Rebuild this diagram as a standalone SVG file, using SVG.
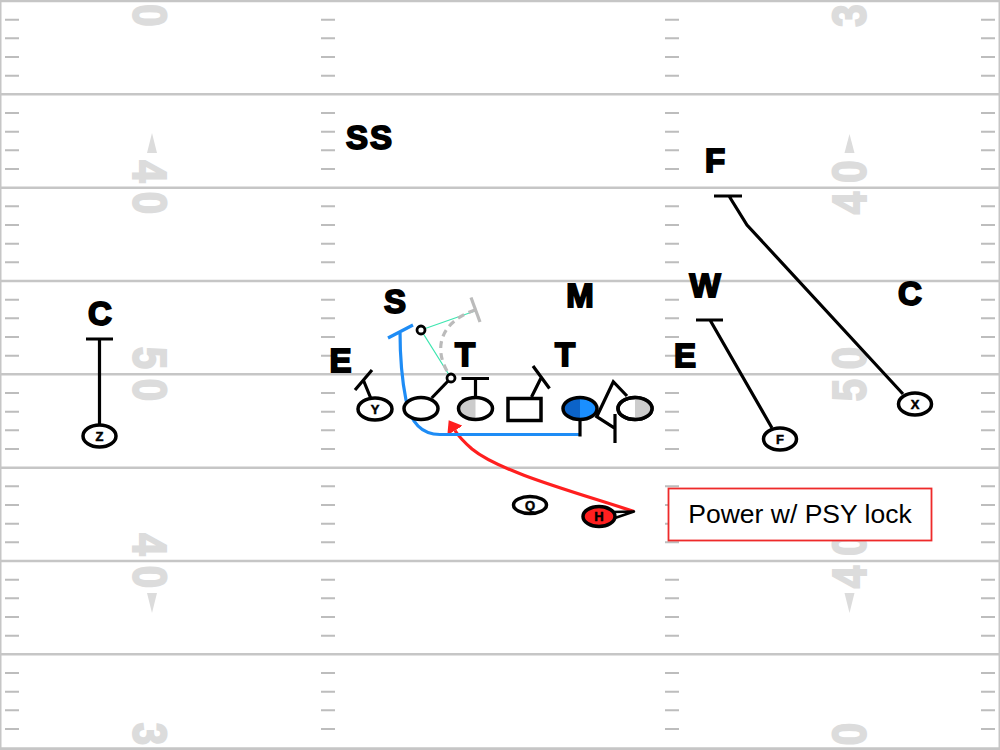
<svg xmlns="http://www.w3.org/2000/svg" xmlns:xlink="http://www.w3.org/1999/xlink" width="1000" height="750" viewBox="0 0 1000 750">
<style>
.yl{stroke:#c6c6c6;stroke-width:2.5;fill:none}
.hs{stroke:#bdbdbd;stroke-width:2;fill:none}
.yn{font-family:"Liberation Sans",Arial,sans-serif;font-weight:bold;font-size:49px;fill:#dcdcdc;stroke:#dcdcdc;stroke-width:2;text-anchor:middle}
.ya{fill:#dcdcdc}
.lbl{font-family:"Liberation Sans",Arial,sans-serif;font-weight:bold;font-size:33px;fill:#000;stroke:#000;stroke-width:1.9;text-anchor:middle}
.pl{fill:#fff;stroke:#000;stroke-width:3.5}
.pt{font-family:"Liberation Sans",Arial,sans-serif;font-weight:bold;font-size:13px;fill:#000;stroke:#000;stroke-width:0.5;text-anchor:middle}
.rt{fill:none;stroke:#000;stroke-width:3.2}
.blue{fill:none;stroke:#1e8cf5;stroke-width:3.2}
.red{fill:none;stroke:#ff1f1f;stroke-width:3.2}
.mint{fill:none;stroke:#3ee6b0;stroke-width:1.2}
.gd{fill:none;stroke:#bbbbbb;stroke-width:3.2}
</style>
<defs>
<path id="hash5" class="hs" d="M5 18.67h14M321 18.67h14M665 18.67h14M981 18.67h14M5 37.33h14M321 37.33h14M665 37.33h14M981 37.33h14M5 56h14M321 56h14M665 56h14M981 56h14M5 74.67h14M321 74.67h14M665 74.67h14M981 74.67h14"/>
<marker id="arr" markerUnits="userSpaceOnUse" viewBox="0 0 12 18" refX="0" refY="9" markerWidth="12" markerHeight="18" orient="auto">
<path d="M0,0 L12,9 L0,18 z" fill="#ff1f1f"/>
</marker>
</defs>
<rect x="0" y="0" width="1000" height="750" fill="#fff"/>
<g id="field">
<use xlink:href="#hash5" y="1"/>
<use xlink:href="#hash5" y="94.33"/>
<use xlink:href="#hash5" y="187.67"/>
<use xlink:href="#hash5" y="281"/>
<use xlink:href="#hash5" y="374.33"/>
<use xlink:href="#hash5" y="467.67"/>
<use xlink:href="#hash5" y="561"/>
<use xlink:href="#hash5" y="654.33"/>
<path class="yl" d="M0 1H1000M0 94.33H1000M0 187.67H1000M0 281H1000M0 374.33H1000M0 467.67H1000M0 561H1000M0 654.33H1000M0 748.5H1000"/>
<rect x="0.75" y="0.75" width="998.5" height="748.5" fill="none" stroke="#c6c6c6" stroke-width="1.5"/>
<text class="yn" transform="translate(151,15.5) rotate(90) scale(0.82,1)" dy="0.36em">0</text>
<text class="yn" transform="translate(151,171.5) rotate(90) scale(0.82,1)" dy="0.36em">4</text>
<text class="yn" transform="translate(151,203) rotate(90) scale(0.82,1)" dy="0.36em">0</text>
<text class="yn" transform="translate(151,358) rotate(90) scale(0.82,1)" dy="0.36em">5</text>
<text class="yn" transform="translate(151,390) rotate(90) scale(0.82,1)" dy="0.36em">0</text>
<text class="yn" transform="translate(151,544.5) rotate(90) scale(0.82,1)" dy="0.36em">4</text>
<text class="yn" transform="translate(151,577) rotate(90) scale(0.82,1)" dy="0.36em">0</text>
<text class="yn" transform="translate(151,734) rotate(90) scale(0.82,1)" dy="0.36em">3</text>
<polygon class="ya" points="152,133 147,153 157,153"/>
<polygon class="ya" points="152,613 147,593 157,593"/>
<text class="yn" transform="translate(848,15.5) rotate(-90) scale(0.82,1)" dy="0.36em">3</text>
<text class="yn" transform="translate(848,171.5) rotate(-90) scale(0.82,1)" dy="0.36em">0</text>
<text class="yn" transform="translate(848,203) rotate(-90) scale(0.82,1)" dy="0.36em">4</text>
<text class="yn" transform="translate(848,358) rotate(-90) scale(0.82,1)" dy="0.36em">0</text>
<text class="yn" transform="translate(848,390) rotate(-90) scale(0.82,1)" dy="0.36em">5</text>
<text class="yn" transform="translate(848,544.5) rotate(-90) scale(0.82,1)" dy="0.36em">0</text>
<text class="yn" transform="translate(848,577) rotate(-90) scale(0.82,1)" dy="0.36em">4</text>
<text class="yn" transform="translate(848,734) rotate(-90) scale(0.82,1)" dy="0.36em">0</text>
<polygon class="ya" points="849.5,134 844.5,153 854.5,153"/>
<polygon class="ya" points="849.5,613 844.5,593 854.5,593"/>
</g>

<g id="connectors">
<path class="red" d="M634,511.5 C575,492 500,472 472,449 C464,442 459,437 455,430.5" marker-end="url(#arr)"/>
<path class="rt" d="M99.5,426 V339 M86,339 H113"/>
<path class="rt" d="M772,428 L710,320 M696,320 H723"/>
<path class="rt" d="M903,394 L747,225 L729,196 M714,196 H742"/>
<path class="rt" d="M370.7,398 L363.3,380 M355,390 L372,370"/>
<path class="rt" d="M431.7,398 L451,378"/>
<path class="mint" d="M451,378 L421,330 L475,311"/>
<path class="gd" d="M447,371 C434,348 440,322 475,310" stroke-dasharray="7,5"/>
<path class="gd" d="M471,297.5 L480,322"/>
<path class="rt" d="M475.5,397 V379 M461.5,378.5 H489"/>
<path class="rt" d="M531.5,397 L541,378 M533,366 L549.5,388.5"/>
<path class="blue" d="M580,434.5 H440 C420,434.5 410,420 406,400 C402,380 400,355 400,331 M388,338 L413,325"/>
<path class="rt" d="M580,419 V436.5"/>
<path class="rt" stroke-linejoin="miter" d="M627,396 L613.3,381.7 L596.7,416.7 L615,428.3 M615,414 V443"/>
<circle cx="451" cy="378" r="4" fill="#fff" stroke="#000" stroke-width="2.8"/>
<circle cx="421" cy="330" r="4" fill="#fff" stroke="#000" stroke-width="2.8"/>
</g>

<g id="label-SS"><text class="lbl" x="370" y="149" letter-spacing="2">SS</text></g>
<g id="label-F"><text class="lbl" x="715" y="172">F</text></g>
<g id="label-W"><text class="lbl" x="705" y="297">W</text></g>
<g id="label-C-right"><text class="lbl" x="910" y="305">C</text></g>
<g id="label-M"><text class="lbl" x="580" y="307">M</text></g>
<g id="label-S"><text class="lbl" x="395" y="313">S</text></g>
<g id="label-C-left"><text class="lbl" x="100" y="325">C</text></g>
<g id="label-E-left"><text class="lbl" x="340.5" y="372">E</text></g>
<g id="label-T1"><text class="lbl" x="465" y="366">T</text></g>
<g id="label-T2"><text class="lbl" x="565" y="366">T</text></g>
<g id="label-E-right"><text class="lbl" x="685" y="367">E</text></g>

<g id="player-Z"><ellipse class="pl" cx="99.5" cy="436" rx="16.5" ry="11"/><text class="pt" x="99.5" y="440.5">Z</text></g>
<g id="player-Y"><ellipse class="pl" cx="375" cy="409" rx="17" ry="11"/><text class="pt" x="375" y="413.5">Y</text></g>
<g id="player-LT"><ellipse class="pl" cx="421" cy="408.5" rx="17" ry="11"/></g>
<g id="player-LG"><path d="M475.5,397.5 A17,11 0 0 0 475.5,419.5 Z" fill="#cccccc"/><ellipse cx="475.5" cy="408.5" rx="17" ry="11" fill="none" stroke="#000" stroke-width="3.5"/></g>
<g id="player-C"><rect class="pl" x="508" y="398.5" width="33" height="22"/></g>
<g id="player-RG"><path d="M580,397.5 A17,11 0 0 0 580,419.5 Z" fill="#0b63c9"/><path d="M580,397.5 A17,11 0 0 1 580,419.5 Z" fill="#1a8fff"/><ellipse cx="580" cy="408.5" rx="17" ry="11" fill="none" stroke="#000" stroke-width="3.5"/></g>
<g id="player-RT"><ellipse class="pl" cx="635" cy="408.5" rx="17" ry="11"/><path d="M635,397.5 A17,11 0 0 1 635,419.5 Z" fill="#cccccc"/><ellipse cx="635" cy="408.5" rx="17" ry="11" fill="none" stroke="#000" stroke-width="3.5"/></g>
<g id="player-X"><ellipse class="pl" cx="915" cy="404" rx="16.5" ry="11"/><text class="pt" x="915" y="408.5">X</text></g>
<g id="player-F"><ellipse class="pl" cx="780" cy="439" rx="16.5" ry="11"/><text class="pt" x="780" y="443.5">F</text></g>
<g id="player-Q"><ellipse class="pl" cx="530" cy="505" rx="16.5" ry="8.5"/><text class="pt" x="530" y="509.5">Q</text></g>
<g id="player-H"><path d="M612,512 L634,511.5 L612,519 Z" fill="#fff" stroke="#000" stroke-width="2.5" stroke-linejoin="round"/><ellipse cx="599" cy="516.5" rx="16" ry="10" fill="#ff1f1f" stroke="#000" stroke-width="3.5"/><text class="pt" x="599" y="521">H</text></g>

<g id="play-label"><rect x="668.5" y="488.5" width="263" height="52" fill="#fff" stroke="#ee2a2a" stroke-width="1.8"/><text x="800" y="523" font-family="'Liberation Sans',Arial,sans-serif" font-size="26.5" text-anchor="middle" fill="#000">Power w/ PSY lock</text></g>
</svg>
